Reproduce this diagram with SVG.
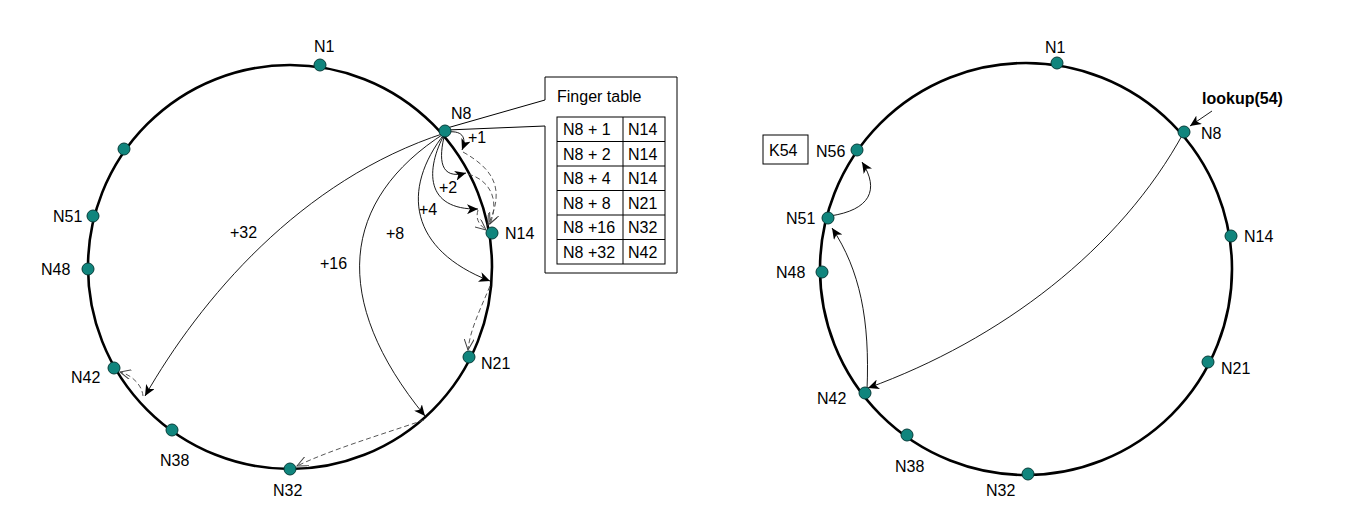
<svg xmlns="http://www.w3.org/2000/svg" width="1358" height="515" viewBox="0 0 1358 515">
<style>
text{font-family:"Liberation Sans",Arial,sans-serif;font-size:16px;fill:#000}
.ring{fill:none;stroke:#000;stroke-width:2.6}
.n{fill:#10857d;stroke:#063d39;stroke-width:1}
.a{fill:none;stroke:#000;stroke-width:0.9;marker-end:url(#ah)}
.d{fill:none;stroke:#444;stroke-width:0.9;stroke-dasharray:5,3;marker-end:url(#ao)}
.t{fill:none;stroke:#000;stroke-width:1}
</style>
<defs>
<marker id="ah" markerWidth="12" markerHeight="10" refX="11" refY="5" orient="auto" markerUnits="userSpaceOnUse"><path d="M0,0 L11,5 L0,10 L3,5 Z" fill="#000"/></marker>
<marker id="ao" markerWidth="12" markerHeight="10" refX="11" refY="5" orient="auto" markerUnits="userSpaceOnUse"><path d="M0,0 L11,5 L0,10" fill="none" stroke="#444"/></marker>
</defs>
<rect width="1358" height="515" fill="#fff"/>
<circle class="ring" cx="290" cy="267" r="202"/>
<circle class="ring" cx="1026" cy="269" r="206"/>
<g id="connectors">
<path class="a" d="M447,132 C465,130 466,140 462,150"/>
<path class="a" d="M445,133 C438,160 440,180 466,173"/>
<path class="a" d="M445,133 C425,170 425,210 478,209"/>
<path class="a" d="M445,133 C400,190 410,250 490,281"/>
<path class="a" d="M445,133 C340,200 330,300 425,416"/>
<path class="a" d="M445,133 C300,180 200,300 145,396"/>
<path class="d" d="M463,152 C495,170 505,190 488,225"/>
<path class="d" d="M468,174 C490,180 500,200 490,224"/>
<path class="d" d="M478,210 C475,220 480,225 486,230"/>
<path class="d" d="M490,286 C480,310 470,330 468,350"/>
<path class="d" d="M424,420 C380,435 330,450 297,466"/>
<path class="d" d="M143,396 C142,385 132,375 120,372"/>
<path class="a" d="M1184,132 C1120,250 1000,340 868,388"/>
<path class="a" d="M867,390 C870,320 860,270 832,228"/>
<path class="a" d="M830,216 C870,210 880,190 862,162"/>
<path class="a" d="M1212,111 L1190,126"/>
<path class="t" d="M545,100 L447,128 M447,130 L545,126 L545,273 L677,273 L677,77 L545,77 L545,100"/>
</g>
<g id="finger-table">
<text x="557" y="102">Finger table</text>
<rect class="t" x="557" y="117" width="108" height="147"/>
<path class="t" d="M623,117 V264 M557,141.5 H665 M557,166 H665 M557,190.5 H665 M557,215 H665 M557,239.5 H665"/>
<text x="563" y="135">N8 + 1</text><text x="628" y="135">N14</text>
<text x="563" y="160">N8 + 2</text><text x="628" y="160">N14</text>
<text x="563" y="184">N8 + 4</text><text x="628" y="184">N14</text>
<text x="563" y="209">N8 + 8</text><text x="628" y="209">N21</text>
<text x="563" y="233">N8 +16</text><text x="628" y="233">N32</text>
<text x="563" y="258">N8 +32</text><text x="628" y="258">N42</text>
</g>
<g id="labels-left">
<text x="468" y="143">+1</text><text x="439" y="193">+2</text><text x="419" y="215">+4</text>
<text x="386" y="239">+8</text><text x="320" y="269">+16</text><text x="230" y="238">+32</text>
</g>
<g id="L-N1"><circle class="n" cx="320" cy="65" r="6"/><text x="314" y="52">N1</text></g>
<g id="L-N8"><circle class="n" cx="445" cy="131" r="6"/><text x="451" y="119">N8</text></g>
<g id="L-N14"><circle class="n" cx="492" cy="233" r="6"/><text x="505" y="239">N14</text></g>
<g id="L-N21"><circle class="n" cx="469" cy="357" r="6"/><text x="481" y="369">N21</text></g>
<g id="L-N32"><circle class="n" cx="290" cy="469" r="6"/><text x="273" y="496">N32</text></g>
<g id="L-N38"><circle class="n" cx="172" cy="430" r="6"/><text x="160" y="466">N38</text></g>
<g id="L-N42"><circle class="n" cx="114" cy="368" r="6"/><text x="71" y="383">N42</text></g>
<g id="L-N48"><circle class="n" cx="88" cy="269" r="6"/><text x="41" y="275">N48</text></g>
<g id="L-N51"><circle class="n" cx="93" cy="216" r="6"/><text x="53" y="222">N51</text></g>
<g id="L-N"><circle class="n" cx="124" cy="149" r="6"/></g>
<g id="R-N1"><circle class="n" cx="1057" cy="63" r="6"/><text x="1045" y="53">N1</text></g>
<g id="R-N8"><circle class="n" cx="1184" cy="132" r="6"/><text x="1201" y="139">N8</text></g>
<g id="R-N14"><circle class="n" cx="1231" cy="236" r="6"/><text x="1244" y="242">N14</text></g>
<g id="R-N21"><circle class="n" cx="1208" cy="362" r="6"/><text x="1221" y="374">N21</text></g>
<g id="R-N32"><circle class="n" cx="1028" cy="474" r="6"/><text x="986" y="496">N32</text></g>
<g id="R-N38"><circle class="n" cx="907" cy="435" r="6"/><text x="895" y="472">N38</text></g>
<g id="R-N42"><circle class="n" cx="865" cy="393" r="6"/><text x="817" y="404">N42</text></g>
<g id="R-N48"><circle class="n" cx="822" cy="272" r="6"/><text x="776" y="278">N48</text></g>
<g id="R-N51"><circle class="n" cx="828" cy="218" r="6"/><text x="786" y="224">N51</text></g>
<g id="R-N56"><circle class="n" cx="857" cy="150" r="6"/><text x="816" y="157">N56</text></g>
<g id="K54"><rect class="t" x="763" y="135" width="45" height="29"/><text x="769" y="156">K54</text></g>
<g id="lookup"><text x="1202" y="104" font-weight="bold">lookup(54)</text></g>
</svg>
